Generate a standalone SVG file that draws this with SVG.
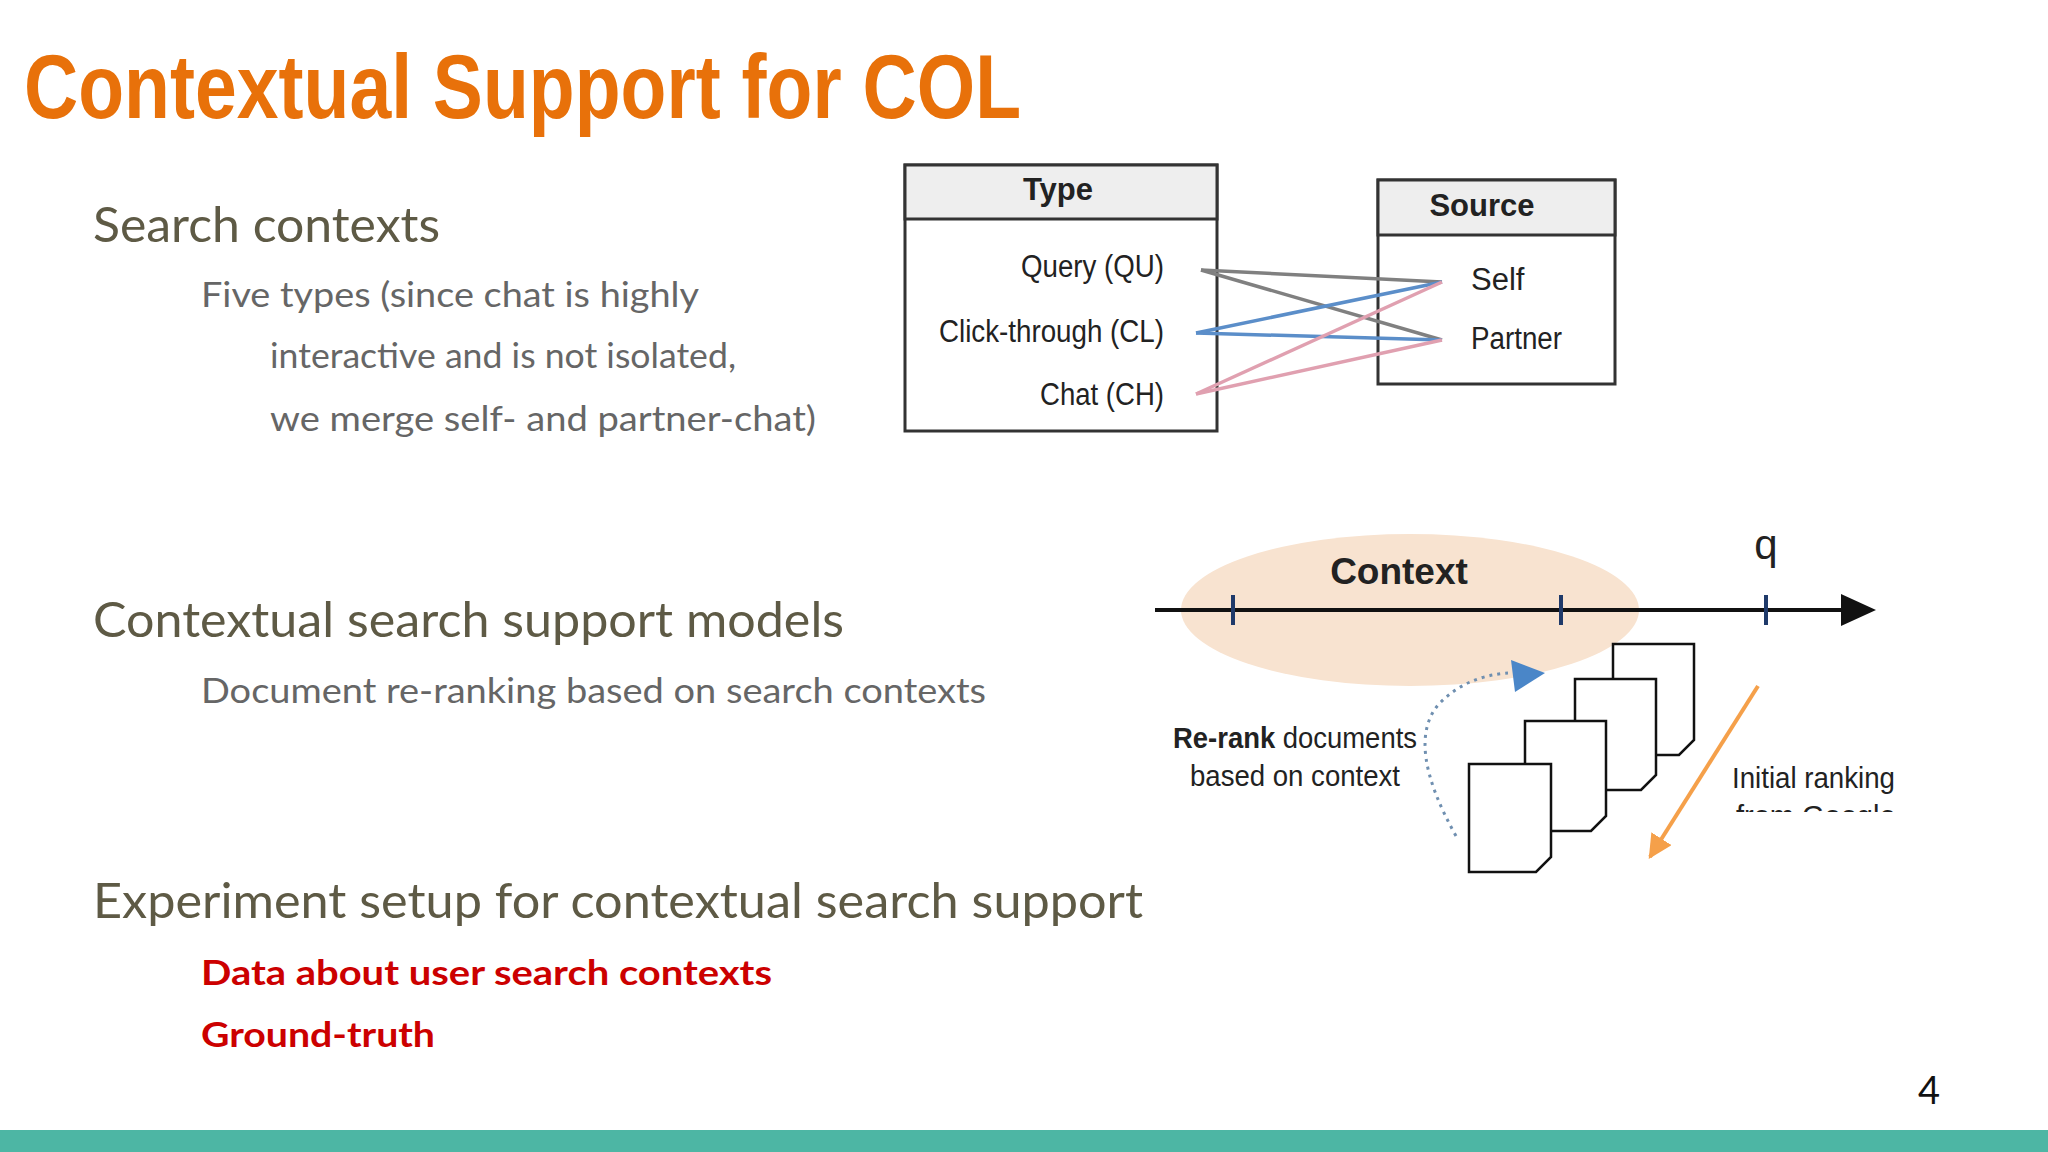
<svg xmlns="http://www.w3.org/2000/svg" width="2048" height="1152" viewBox="0 0 2048 1152">
<style>
.h{font-family:Lato,"Open Sans",sans-serif;font-size:48px;fill:#5e5a45}
.s{font-family:Lato,"Open Sans",sans-serif;font-size:34px;fill:#666}
.r{font-family:Lato,"Open Sans",sans-serif;font-size:35px;fill:#cc0000;font-weight:bold}
.n{font-family:"Liberation Sans Narrow","Liberation Sans",sans-serif;fill:#222}
.box{fill:#fff;stroke:#333;stroke-width:3}
.hd{fill:#eeeeee;stroke:#333;stroke-width:3}
.pg{fill:#fff;stroke:#111;stroke-width:2.5}
</style>
<defs>
<marker id="ah" viewBox="0 0 10 10" refX="9" refY="5" markerWidth="6" markerHeight="6" orient="auto" markerUnits="strokeWidth"><path d="M0,0L10,5L0,10z" fill="#f5a04a"/></marker>
<clipPath id="cl"><rect x="1700" y="760" width="200" height="52"/></clipPath>
</defs>
<rect width="2048" height="1152" fill="#fff"/>
<text x="24" y="118" font-family="'Liberation Sans Narrow','Liberation Sans',sans-serif" font-weight="bold" font-size="90" fill="#e8710a" textLength="997" lengthAdjust="spacingAndGlyphs">Contextual Support for COL</text>
<g id="text-left">
<text class="h" x="93" y="242" textLength="347" lengthAdjust="spacingAndGlyphs">Search contexts</text>
<text class="s" x="201" y="307" textLength="498" lengthAdjust="spacingAndGlyphs">Five types (since chat is highly</text>
<text class="s" x="270" y="368" textLength="466" lengthAdjust="spacingAndGlyphs">interactive and is not isolated,</text>
<text class="s" x="270" y="431" textLength="546" lengthAdjust="spacingAndGlyphs">we merge self- and partner-chat)</text>
<text class="h" x="93" y="637" textLength="751" lengthAdjust="spacingAndGlyphs">Contextual search support models</text>
<text class="s" x="201" y="703" textLength="785" lengthAdjust="spacingAndGlyphs">Document re-ranking based on search contexts</text>
<text class="h" x="93" y="918" textLength="1050" lengthAdjust="spacingAndGlyphs">Experiment setup for contextual search support</text>
<text class="r" x="201" y="985" textLength="571" lengthAdjust="spacingAndGlyphs">Data about user search contexts</text>
<text class="r" x="201" y="1047" textLength="234" lengthAdjust="spacingAndGlyphs">Ground-truth</text>
</g>
<g id="type">
<rect class="box" x="905" y="165" width="312" height="266"/>
<rect class="hd" x="905" y="165" width="312" height="54"/>
<text class="n" x="1058" y="200" font-size="31" font-weight="bold" text-anchor="middle">Type</text>
<text class="n" x="1021" y="277" font-size="31" textLength="143" lengthAdjust="spacingAndGlyphs">Query (QU)</text>
<text class="n" x="939" y="342" font-size="31" textLength="225" lengthAdjust="spacingAndGlyphs">Click-through (CL)</text>
<text class="n" x="1040" y="405" font-size="31" textLength="124" lengthAdjust="spacingAndGlyphs">Chat (CH)</text>
</g>
<g id="source">
<rect class="box" x="1378" y="180" width="237" height="204"/>
<rect class="hd" x="1378" y="180" width="237" height="55"/>
<text class="n" x="1482" y="216" font-size="31" font-weight="bold" text-anchor="middle">Source</text>
<text class="n" x="1471" y="290" font-size="31">Self</text>
<text class="n" x="1471" y="349" font-size="31" textLength="91" lengthAdjust="spacingAndGlyphs">Partner</text>
</g>
<g id="timeline">
<ellipse cx="1410" cy="610" rx="229" ry="76" fill="#f8e3d0"/>
<line x1="1155" y1="610" x2="1845" y2="610" stroke="#111" stroke-width="4"/>
<path d="M1841,594 L1876,610 L1841,626 Z" fill="#111"/>
<g stroke="#1f3a6a" stroke-width="4"><line x1="1233" y1="595" x2="1233" y2="625"/><line x1="1561" y1="595" x2="1561" y2="625"/><line x1="1766" y1="595" x2="1766" y2="625"/></g>
<text class="n" x="1399" y="584" font-size="37" font-weight="bold" text-anchor="middle">Context</text>
<text class="n" x="1766" y="559" font-size="42" text-anchor="middle">q</text>
</g>
<g id="docs">
<path class="pg" d="M1613,644H1694V740L1679,755H1613Z"/>
<path class="pg" d="M1575,679H1656V775L1641,790H1575Z"/>
<path class="pg" d="M1525,721H1606V816L1591,831H1525Z"/>
<path class="pg" d="M1469,764H1551V857L1536,872H1469Z"/>
<text class="n" x="1173" y="748" font-size="29" fill="#333" textLength="244" lengthAdjust="spacingAndGlyphs"><tspan font-weight="bold">Re-rank</tspan> documents</text>
<text class="n" x="1190" y="786" font-size="29" fill="#333" textLength="210" lengthAdjust="spacingAndGlyphs">based on context</text>
<text class="n" x="1732" y="788" font-size="29" fill="#333" textLength="163" lengthAdjust="spacingAndGlyphs">Initial ranking</text>
<text class="n" x="1736" y="826" font-size="29" fill="#333" clip-path="url(#cl)">from Google</text>
</g>
<g id="connectors" fill="none" stroke-width="3.5">
<line x1="1201" y1="270" x2="1442" y2="282" stroke="#808080"/>
<line x1="1201" y1="270" x2="1442" y2="340" stroke="#808080"/>
<line x1="1196" y1="333" x2="1442" y2="282" stroke="#5b8ec9"/>
<line x1="1196" y1="333" x2="1442" y2="340" stroke="#5b8ec9"/>
<line x1="1196" y1="394" x2="1442" y2="282" stroke="#e0a0b0"/>
<line x1="1196" y1="394" x2="1442" y2="340" stroke="#e0a0b0"/>
<path d="M1456,836 Q1405,745 1438,705 Q1465,676 1508,673" stroke="#6f8fb0" stroke-width="3" stroke-dasharray="3,5"/>
<path d="M1511,660 L1545,673 L1515,692 Z" fill="#4a86c8" stroke="none"/>
<line x1="1758" y1="686" x2="1650" y2="857" stroke="#f5a04a" stroke-width="4" marker-end="url(#ah)"/>
</g>
<text x="1929" y="1104" font-family="Lato,'Open Sans',sans-serif" font-size="38" fill="#111" text-anchor="middle">4</text>
<rect x="0" y="1130" width="2048" height="22" fill="#4db6a4"/>
</svg>
